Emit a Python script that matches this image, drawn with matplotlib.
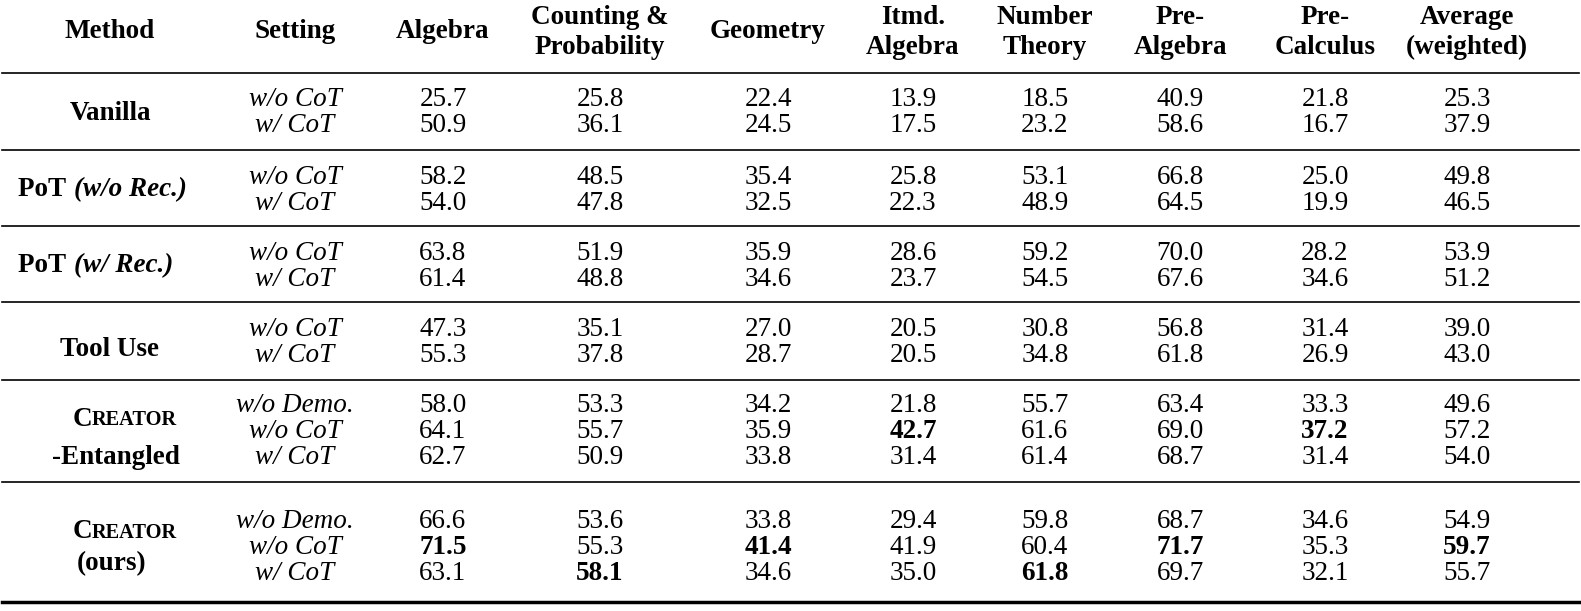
import matplotlib
matplotlib.use("Agg")
import matplotlib.pyplot as plt

plt.rcParams['font.family'] = ['Liberation Serif', 'DejaVu Serif']

headers = [["Method"], ["Setting"], ["Algebra"], ["Counting &", "Probability"], ["Geometry"],
           ["Itmd.", "Algebra"], ["Number", "Theory"], ["Pre-", "Algebra"], ["Pre-", "Calculus"],
           ["Average", "(weighted)"]]
settings = [["w/o CoT", "w/ CoT"], ["w/o CoT", "w/ CoT"], ["w/o CoT", "w/ CoT"], ["w/o CoT", "w/ CoT"],
            ["w/o Demo.", "w/o CoT", "w/ CoT"], ["w/o Demo.", "w/o CoT", "w/ CoT"]]
values = [
    [[25.7, 25.8, 22.4, 13.9, 18.5, 40.9, 21.8, 25.3], [50.9, 36.1, 24.5, 17.5, 23.2, 58.6, 16.7, 37.9]],
    [[58.2, 48.5, 35.4, 25.8, 53.1, 66.8, 25.0, 49.8], [54.0, 47.8, 32.5, 22.3, 48.9, 64.5, 19.9, 46.5]],
    [[63.8, 51.9, 35.9, 28.6, 59.2, 70.0, 28.2, 53.9], [61.4, 48.8, 34.6, 23.7, 54.5, 67.6, 34.6, 51.2]],
    [[47.3, 35.1, 27.0, 20.5, 30.8, 56.8, 31.4, 39.0], [55.3, 37.8, 28.7, 20.5, 34.8, 61.8, 26.9, 43.0]],
    [[58.0, 53.3, 34.2, 21.8, 55.7, 63.4, 33.3, 49.6], [64.1, 55.7, 35.9, 42.7, 61.6, 69.0, 37.2, 57.2],
     [62.7, 50.9, 33.8, 31.4, 61.4, 68.7, 31.4, 54.0]],
    [[66.6, 53.6, 33.8, 29.4, 59.8, 68.7, 34.6, 54.9], [71.5, 55.3, 41.4, 41.9, 60.4, 71.7, 35.3, 59.7],
     [63.1, 58.1, 34.6, 35.0, 61.8, 69.7, 32.1, 55.7]],
]
bold = {(4, 1, 3), (4, 1, 6), (5, 1, 0), (5, 1, 2), (5, 1, 5), (5, 1, 7), (5, 2, 1), (5, 2, 4)}

col_x = [110, 295, 443, 600, 768, 913, 1045, 1180, 1325, 1467]
group_rows = [[100, 126], [177, 203], [253, 280], [330, 356], [406, 432, 458], [521, 547, 573]]
sep_lines = [73, 150, 226, 302, 380, 482]
fs = 19.5

fig = plt.figure(figsize=(15.81, 6.11), dpi=100)
ax = fig.add_axes([0, 0, 1, 1])
ax.set_xlim(0, 1581); ax.set_ylim(611, 0); ax.axis('off')

for x, h in zip(col_x, headers):
    if len(h) == 1:
        ax.text(x, 32, h[0], ha='center', va='center', fontsize=fs, fontweight='bold')
    else:
        ax.text(x, 17, h[0], ha='center', va='center', fontsize=fs, fontweight='bold')
        ax.text(x, 47, h[1], ha='center', va='center', fontsize=fs, fontweight='bold')

for y in sep_lines:
    ax.plot([2, 1579], [y, y], color='black', lw=1.2)
ax.plot([2, 1579], [602, 602], color='black', lw=2.5)

def creator(y):
    ax.text(92, y, "C", ha='right', va='center', fontsize=fs, fontweight='bold')
    ax.text(92, y + 1, "REATOR", ha='left', va='center', fontsize=fs * 0.75, fontweight='bold')

ax.text(110, 114, "Vanilla", ha='center', va='center', fontsize=fs, fontweight='bold')
for y, sub in [(190, "(w/o Rec.)"), (266, "(w/ Rec.)")]:
    ax.text(72, y, "PoT ", ha='right', va='center', fontsize=fs, fontweight='bold')
    ax.text(74, y, sub, ha='left', va='center', fontsize=fs, fontweight='bold', style='italic')
ax.text(110, 349, "Tool Use", ha='center', va='center', fontsize=fs, fontweight='bold')
creator(419)
ax.text(116, 457, "-Entangled", ha='center', va='center', fontsize=fs, fontweight='bold')
creator(532)
ax.text(112, 564, "(ours)", ha='center', va='center', fontsize=fs, fontweight='bold')

for g, (rows, sets) in enumerate(zip(group_rows, settings)):
    for r, (y, s) in enumerate(zip(rows, sets)):
        ax.text(col_x[1], y, s, ha='center', va='center', fontsize=fs, style='italic')
        for c, v in enumerate(values[g][r]):
            ax.text(col_x[c + 2], y, f"{v:.1f}", ha='center', va='center', fontsize=fs,
                    fontweight='bold' if (g, r, c) in bold else 'normal')

fig.savefig("out.png", dpi=100)
